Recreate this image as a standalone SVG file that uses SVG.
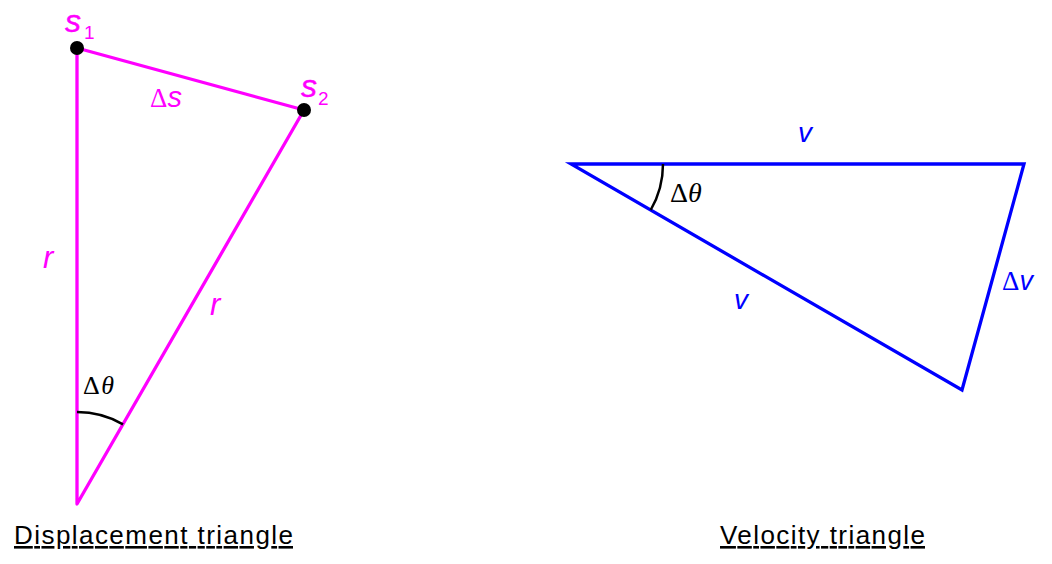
<svg xmlns="http://www.w3.org/2000/svg" width="1052" height="564" viewBox="0 0 1052 564">
<style>
.mag{stroke:#ff00ff;stroke-width:3.3;fill:none;stroke-linecap:round;stroke-linejoin:round}
.blu{stroke:#0000ff;stroke-width:3.3;fill:none;stroke-linejoin:miter}
.arc{stroke:#000;stroke-width:2.5;fill:none}
.lm{fill:#ff00ff;font-family:"Liberation Sans",Arial,sans-serif;font-style:italic}
.lb{fill:#0000ff;font-family:"Liberation Sans",Arial,sans-serif;font-style:italic}
.sub{font-style:normal}
.dl{font-family:"Liberation Serif","Times New Roman",serif;font-style:normal}
.th{fill:#000;font-family:"Liberation Serif","Times New Roman",serif}
.cap{fill:#000;font-family:"Liberation Sans",Arial,sans-serif;font-size:26px;text-decoration:underline}
</style>
<rect width="1052" height="564" fill="#fff"/>
<g id="connectors">
  <path class="mag" d="M77 48 L77 504 L304 110 Z"/>
  <path class="arc" d="M77 412 A92 92 0 0 1 123 424.3"/>
  <path class="blu" d="M571 164 L1024 164 L962 390 Z"/>
  <path class="arc" d="M663 164 A92 92 0 0 1 650.7 210"/>
</g>
<g id="s1">
  <circle cx="77" cy="48" r="7" fill="#000"/>
  <text class="lm" x="65" y="32" font-size="32" stroke="#ff00ff" stroke-width="0.4">s</text>
  <text class="lm sub" x="84" y="39" font-size="19">1</text>
</g>
<g id="s2">
  <circle cx="304" cy="110" r="7" fill="#000"/>
  <text class="lm" x="301" y="97" font-size="32" stroke="#ff00ff" stroke-width="0.4">s</text>
  <text class="lm sub" x="318" y="105" font-size="19">2</text>
</g>
<g id="labels-left">
  <text class="lm" x="150" y="107" font-size="29"><tspan class="dl" font-size="27">Δ</tspan>s</text>
  <text class="lm" x="43" y="268" font-size="31">r</text>
  <text class="lm" x="210" y="315" font-size="31">r</text>
  <text class="th" x="83" y="394" font-size="26" letter-spacing="1.5"><tspan>Δ</tspan><tspan font-style="italic">θ</tspan></text>
</g>
<g id="labels-right">
  <text class="lb" x="798" y="142" font-size="28">v</text>
  <text class="lb" x="734" y="309" font-size="28">v</text>
  <text class="lb" x="1002" y="290" font-size="27"><tspan class="dl">Δ</tspan>v</text>
  <text class="th" x="670" y="202" font-size="28"><tspan>Δ</tspan><tspan font-style="italic">θ</tspan></text>
</g>
<g id="captions">
  <text class="cap" x="14" y="544" textLength="279" lengthAdjust="spacing">Displacement triangle</text>
  <text class="cap" x="720" y="544" textLength="205" lengthAdjust="spacing">Velocity triangle</text>
</g>
</svg>
